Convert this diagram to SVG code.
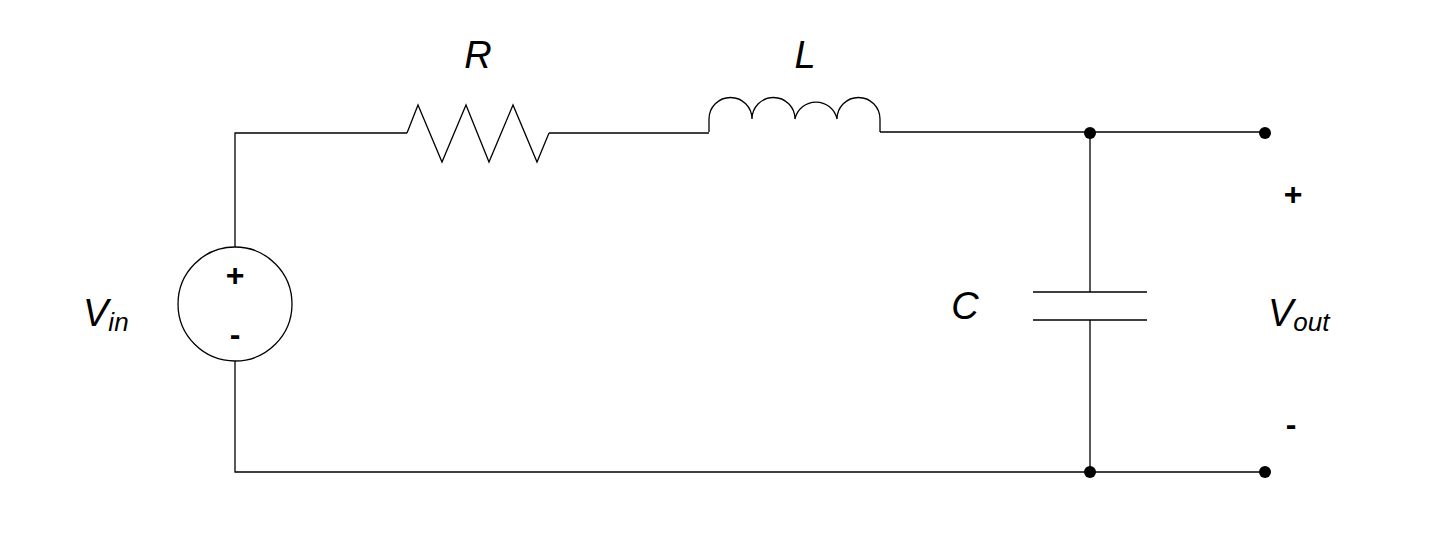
<svg xmlns="http://www.w3.org/2000/svg" width="1430" height="548" viewBox="0 0 1430 548">
<style>
.w{fill:none;stroke:#000;stroke-width:1.3}
.t{font-family:"Liberation Sans",Arial,sans-serif;font-style:italic;font-size:38px}
.s{font-family:"Liberation Sans",Arial,sans-serif;font-size:32px;font-weight:bold}
.d{fill:#000}
</style>
<rect width="1430" height="548" fill="#fff"/>
<g id="connectors">
<path class="w" d="M235,247 V133 H407"/>
<path class="w" d="M549,133 H709"/>
<path class="w" d="M880,132 H1265"/>
<path class="w" d="M235,361 V472 H1265"/>
<path class="w" d="M1090,133 V292 M1090,320 V472"/>
</g>
<g id="R"><path class="w" d="M407,133 L418,105 L442,162 L466,105 L489,162 L513,105 L537,162 L549,133"/><text class="t" x="478" y="68" text-anchor="middle">R</text></g>
<g id="L"><path class="w" d="M709,132 V119 A21.5,21.5 0 0 1 752,119 A21.5,21.5 0 0 1 795,119 A21.5,21.5 0 0 1 837,119 A21.5,21.5 0 0 1 880,119 V132"/><text class="t" x="805" y="68" text-anchor="middle">L</text></g>
<g id="C"><path class="w" d="M1033,292 H1147 M1033,320 H1147"/><text class="t" x="965" y="319" text-anchor="middle">C</text></g>
<g id="Vin"><circle class="w" cx="235" cy="304" r="57"/><text class="s" x="235" y="286" text-anchor="middle">+</text><text class="s" x="235" y="345" text-anchor="middle">-</text><text class="t" x="83" y="326">V<tspan font-size="26" dy="5">in</tspan></text></g>
<g id="Vout"><circle class="d" cx="1090" cy="133" r="6"/><circle class="d" cx="1265" cy="133" r="6"/><circle class="d" cx="1090" cy="472" r="6"/><circle class="d" cx="1265" cy="472" r="6"/><text class="s" x="1293" y="205" text-anchor="middle">+</text><text class="s" x="1291" y="435" text-anchor="middle">-</text><text class="t" x="1268" y="326">V<tspan font-size="26" dy="5">out</tspan></text></g>
</svg>
